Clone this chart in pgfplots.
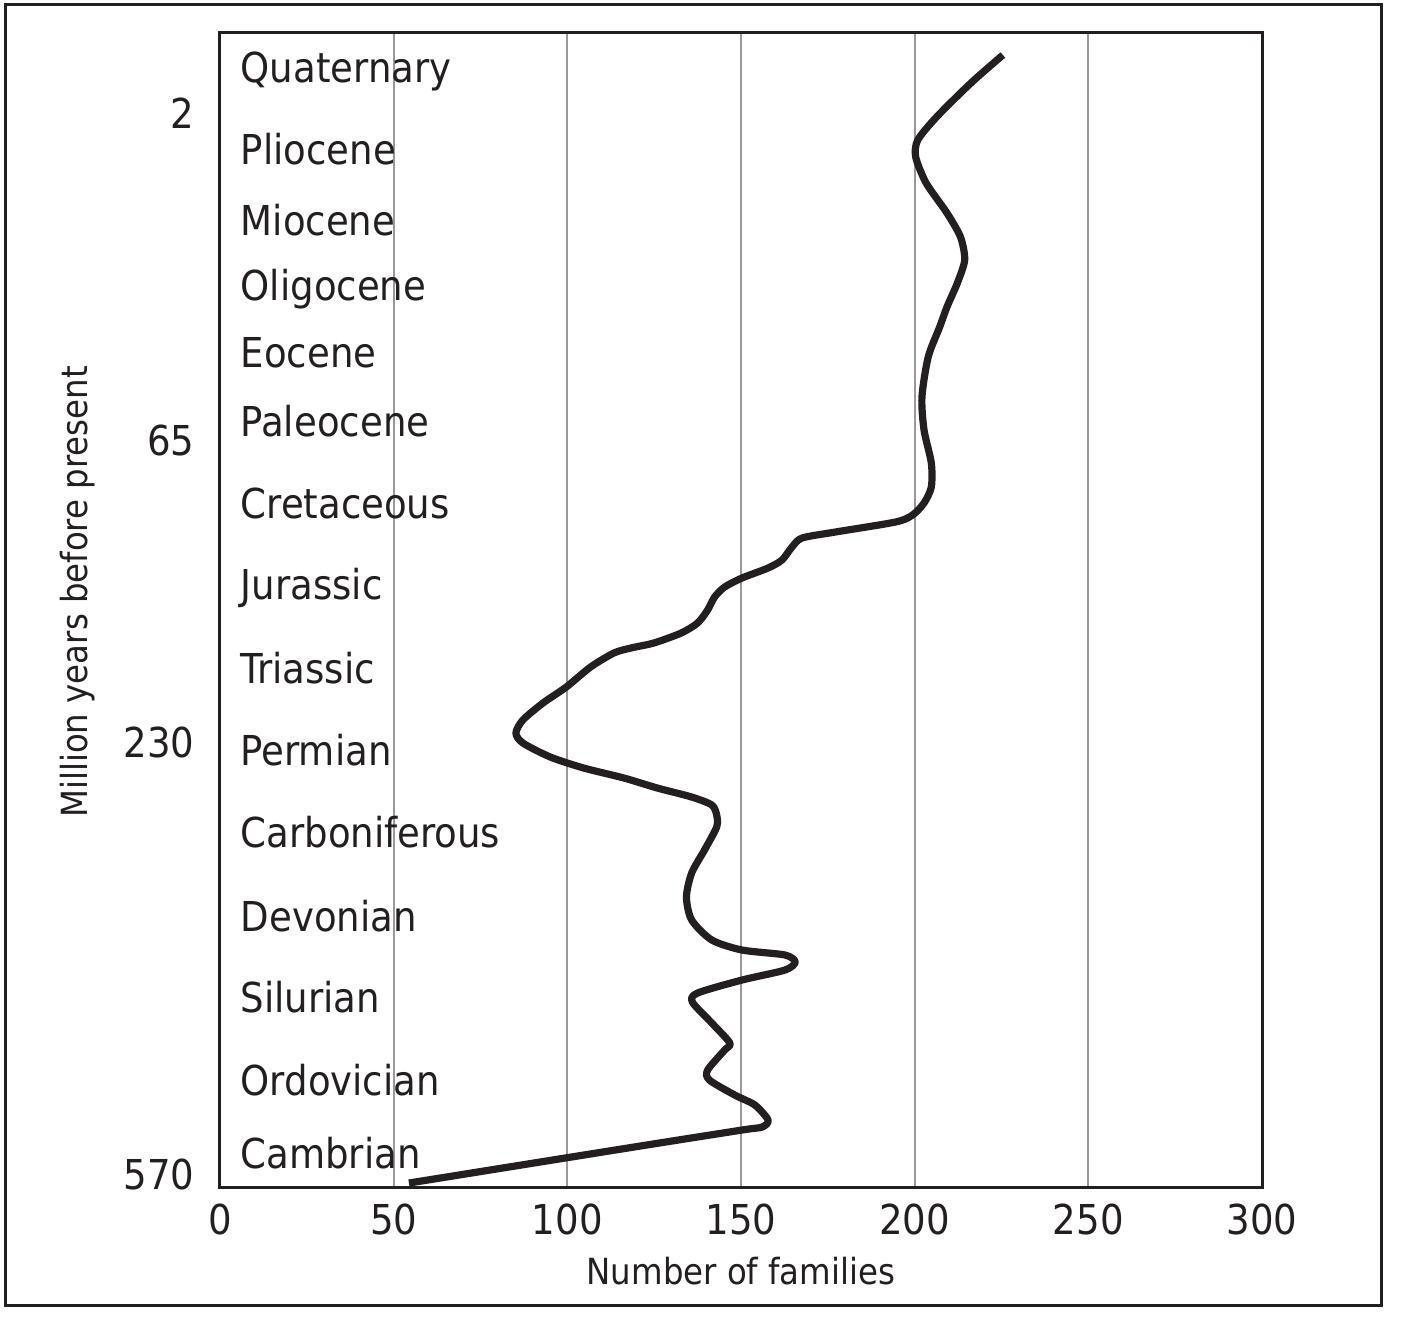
\documentclass[border=0pt]{standalone}
\usepackage{fontspec}
\setmainfont{DejaVu Sans Condensed}
\usepackage{pgfplots}
\pgfplotsset{compat=1.18}
\definecolor{ink}{HTML}{231F20}

% y = position down the time column (top of plot = 0), not linear in time
\begin{document}
\begin{tikzpicture}
\begin{axis}[
  scale only axis, width=260.5pt, height=288.5pt,
  xmin=0, xmax=300, ymin=0, ymax=1154, y dir=reverse,
  xtick={0,50,...,300},
  ytick={80,407,709,1141}, yticklabels={2,65,230,570},
  xmajorgrids, major grid style={gray!80, line width=0.5pt},
  major tick length=0pt,
  axis line style={ink, line width=0.75pt},
  /pgf/number format/assume math mode=true,
  tick label style={font=\fontsize{10.3}{12}\selectfont, text=ink},
  xticklabel style={anchor=north, inner sep=0pt, yshift=-4pt},
  yticklabel style={anchor=east, inner sep=0pt, xshift=-6.25pt},
  xlabel={Number of families},
  ylabel={Million years before present},
  label style={font=\fontsize{9}{11}\selectfont, text=ink},
  xlabel style={at={(axis description cs:0.5,0)}, anchor=base, yshift=-24.25pt},
  ylabel style={at={(axis description cs:-0.1276,0.5156)}, anchor=base},
  clip=false,
]
\addplot[ink, line width=1.8pt, smooth, tension=0.45, line cap=butt, line join=round] coordinates {
  (225.4,22) (216.2,50) (206.3,84) (200.9,107) (200.3,124) (203.3,150)
  (209.3,180) (213.2,204) (214.4,227) (212.3,250) (209.3,274) (207.2,294)
  (203.9,324) (202.1,364) (202.7,397) (204.8,430) (204.8,454) (202.7,470)
  (199.4,482) (194.5,489) (177.2,499) (167.6,505) (164.7,514) (161.8,527)
  (157.8,535) (150.3,545) (145.3,554) (142.4,564) (140.4,577) (137.5,590)
  (132.8,600) (124.9,610) (118.3,615) (113.4,620) (106.7,634) (99.7,654)
  (93.0,670) (87.2,687) (85.2,700) (87.2,710) (95.1,724) (104.7,735)
  (116.3,745) (125.9,755) (135.8,764) (141.6,772) (143.0,782) (143.0,794)
  (139.5,817) (135.8,840) (134.3,864) (135.8,887) (141.6,907) (150.3,917)
  (162.7,922) (165.6,929) (162.7,937) (150.3,947) (137.5,960) (136.0,969)
  (141.6,990) (146.8,1010) (145.3,1017) (140.4,1037) (140.9,1047) (148.2,1062)
  (154.0,1072) (157.8,1087) (156.1,1094) (150.3,1097) (119.2,1114) (54.4,1150)
};
\begin{scope}[every node/.style={anchor=base west, inner sep=0pt, text=ink, font=\fontsize{10.3}{12}\selectfont}]
\node at (axis cs:5.76,50)   {Quaternary};
\node at (axis cs:5.76,132)  {Pliocene};
\node at (axis cs:5.76,202)  {Miocene};
\node at (axis cs:5.76,267)  {Oligocene};
\node at (axis cs:5.76,334)  {Eocene};
\node at (axis cs:5.76,403)  {Paleocene};
\node at (axis cs:5.76,485)  {Cretaceous};
\node at (axis cs:5.76,566)  {Jurassic};
\node at (axis cs:5.76,650)  {Triassic};
\node at (axis cs:5.76,732)  {Permian};
\node at (axis cs:5.76,814)  {Carboniferous};
\node at (axis cs:5.76,898)  {Devonian};
\node at (axis cs:5.76,979)  {Silurian};
\node at (axis cs:5.76,1062) {Ordovician};
\node at (axis cs:5.76,1135) {Cambrian};
\end{scope}
\draw[ink, line width=0.75pt] (rel axis cs:-0.2063,-0.1023) rectangle (rel axis cs:1.1142,1.0243);
\path (rel axis cs:-0.2111,-0.1231) rectangle (rel axis cs:1.1382,1.0286);
\end{axis}
\end{tikzpicture}
\end{document}
